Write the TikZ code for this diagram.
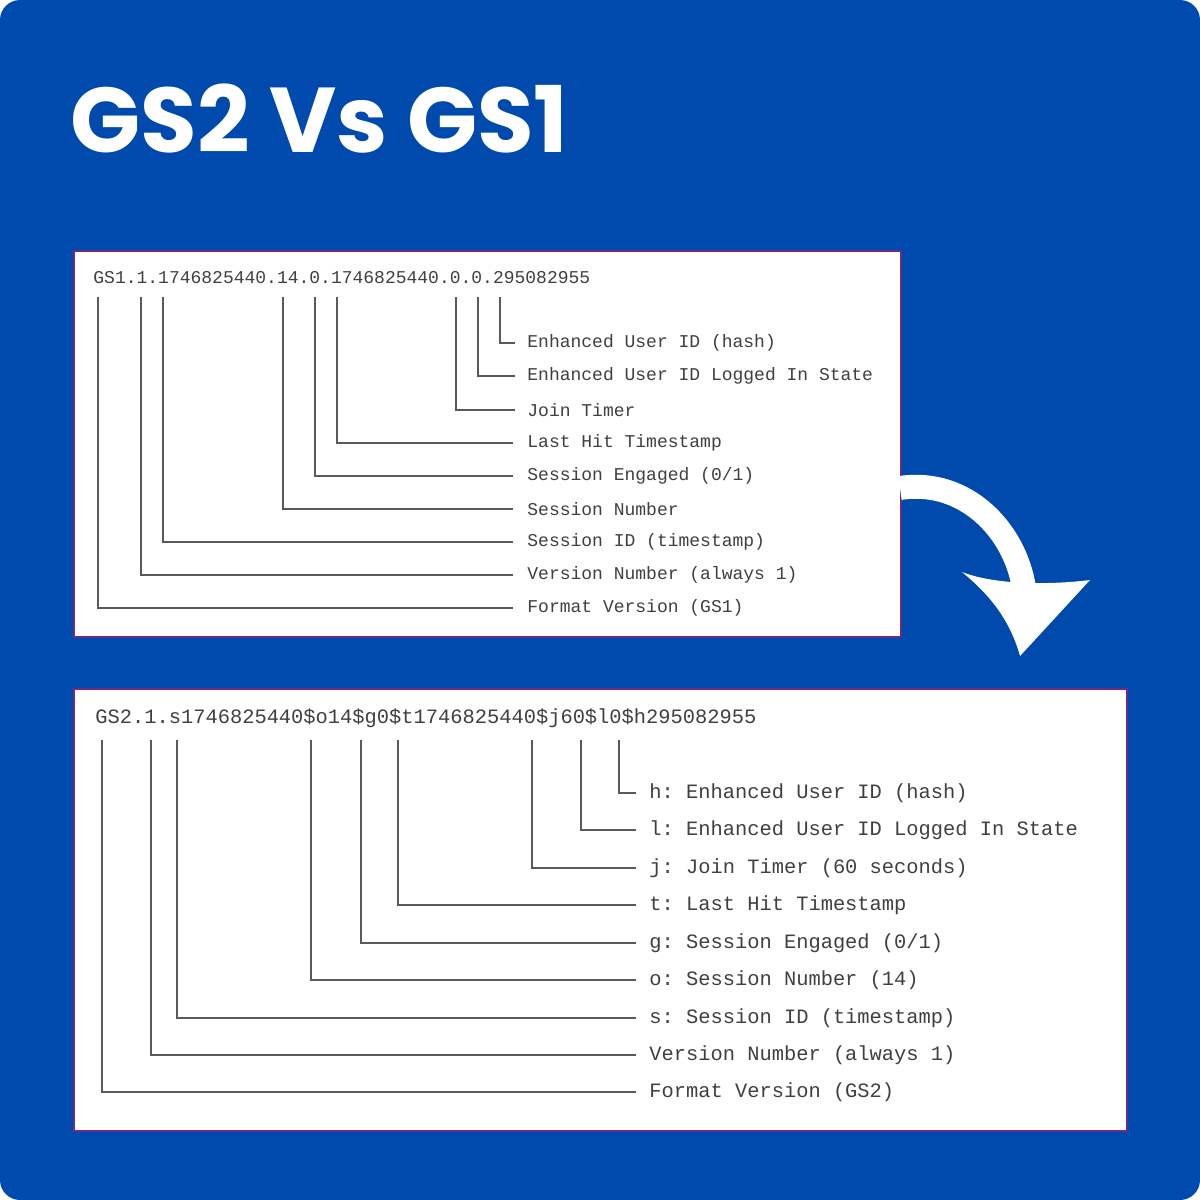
\documentclass[tikz,border=0pt]{standalone}
\usepackage{fontspec}
\setmonofont{Liberation Mono}
\newfontfamily\titlefont{Poppins}
\definecolor{bg}{HTML}{004AAD}
\definecolor{frame}{HTML}{6A2A8E}
\definecolor{txt}{HTML}{404040}
\definecolor{ln}{HTML}{5A5A5A}
\begin{document}
\begin{tikzpicture}[x=0.5pt,y=-0.5pt,
  tree/.style={draw=ln,line width=0.7pt},
  lbl/.style={anchor=west,inner sep=0pt,text=txt,font=\ttfamily\fontsize{9}{10}\selectfont},
  lblb/.style={anchor=west,inner sep=0pt,text=txt,font=\ttfamily\fontsize{10.2}{11}\selectfont},
  card/.style={fill=white,draw=frame,line width=1.3pt}]
\useasboundingbox (0,0) rectangle (1200,1200);
\fill[bg,rounded corners=10pt] (0,0) rectangle (1200,1200);
\node[anchor=base west,inner sep=0pt,text=white,font=\titlefont\bfseries\fontsize{46}{50}\selectfont] (title) at (70,152) {GS2 Vs GS1};
% top card
\draw[card] (74,251) rectangle (901,637);
\node[lbl] (h1) at (93,278) {GS1.1.1746825440.14.0.1746825440.0.0.295082955};
\foreach \x/\y/\e/\t [count=\i] in {500/343/515/{Enhanced User ID (hash)},478/376/515/{Enhanced User ID Logged In State},456/410/515/{Join Timer},337/443/513/{Last Hit Timestamp},315/476/513/{Session Engaged (0/1)},283/509/513/{Session Number},163/542/513/{Session ID (timestamp)},141/575/513/{Version Number (always 1)},98/608/513/{Format Version (GS1)}}{
  \coordinate (ta\i) at (\x,297);
  \node[lbl] (tl\i) at (527,\y) {\t};
  \draw[tree] (ta\i) |- (\e,\y);
}
% bottom card
\draw[card] (74,689) rectangle (1127,1131);
\node[lblb] (h2) at (95,718) {GS2.1.s1746825440\$o14\$g0\$t1746825440\$j60\$l0\$h295082955};
\foreach \x/\y/\t [count=\i] in {619/793/{h: Enhanced User ID (hash)},581/830/{l: Enhanced User ID Logged In State},532/868/{j: Join Timer (60 seconds)},398/905/{t: Last Hit Timestamp},361/943/{g: Session Engaged (0/1)},311/980/{o: Session Number (14)},177/1018/{s: Session ID (timestamp)},151/1055/{Version Number (always 1)},102/1092/{Format Version (GS2)}}{
  \coordinate (ba\i) at (\x,740);
  \node[lblb] (bl\i) at (649,\y) {\t};
  \draw[tree] (ba\i) |- (636,\y);
}
% arrow
\coordinate (as) at (900,488);
\coordinate (ae) at (1024,588);
\draw[white,line width=12pt] (as) .. controls (965,478) and (1015,530) .. (ae);
\fill[white] (962,572) .. controls (995,585) and (1050,585) .. (1090,580) -- (1020,656) .. controls (1010,620) and (990,595) .. cycle;
\end{tikzpicture}
\end{document}
